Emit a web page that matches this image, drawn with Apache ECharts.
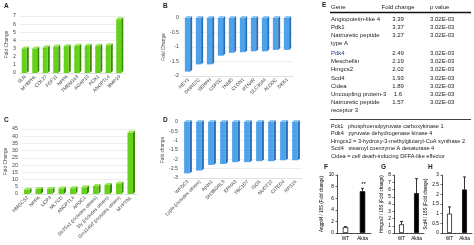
<!DOCTYPE html>
<html>
<head>
<meta charset="utf-8">
<script src="https://cdn.jsdelivr.net/npm/echarts@6/dist/echarts.min.js"></script>
<style>
html, body { margin: 0; padding: 0; background: #fff; }
#fig { width: 474px; height: 245px; }
</style>
</head>
<body>
<div id="fig"></div>
<script>
// panel A - up-regulated genes (array)
var genesA = ['SLN', 'MYBPHL', 'COL27', 'FGF11', 'NPPA', 'TMEM163', 'AGAP10', 'PCK1', 'ANGPTL4', 'BMP10'];
var foldA = [3.0, 3.0, 3.15, 3.25, 3.3, 3.35, 3.35, 3.35, 3.4, 6.6];
// panel B - down-regulated genes (array)
var genesB = ['HEY1', 'DHRS7C', 'SERPH', 'USP2C', 'TNMD', 'CLDN1', 'RTN4R', 'SLC36A4', 'ALDOC', 'DKK1'];
var foldB = [-1.85, -1.6, -1.6, -1.3, -1.2, -1.18, -1.15, -1.15, -1.1, -1.1];
// panel C - up-regulated genes (sequencing)
var genesC = ['HMGCS2', 'NPPA', 'UCP3', 'MLYCD', 'ANGPTL4', 'APOC1', 'Slc25a1 (includes others)', 'Sly (includes others)', 'Gm11492 (includes others)', 'MYPTNL'];
var foldC = [3.0, 3.5, 3.5, 3.8, 4.0, 4.6, 5.5, 6.3, 7.3, 42.5];
// panel D - down-regulated genes (sequencing)
var genesD = ['WFDC3', 'Lypla (includes others)', 'Ap3s1', 'SH3BGRL3', 'EPHA3', 'TBC1D7', 'ISG5', 'NUDT22', 'CITED4', 'RPS16'];
var foldD = [-2.75, -2.6, -2.3, -2.25, -2.15, -2.15, -2.1, -2.1, -2.05, -2.05];

// panel E - table
var tableGenes = ['Angiopoietin-like 4', 'Pdk1', 'Natriuretic peptide\ntype A', 'Pdk4', 'Meschellin', 'Hmgcs2', 'Scd4', 'Cidea', 'Uncoupling protein-3', 'Natriuretic peptide\nreceptor 3'];
var tableFold = ['3.39', '3.37', '3.27', '2.49', '2.19', '2.02', '1.93', '1.89', '1.6', '1.57'];
var tablePval = ['3.02E-03', '3.02E-03', '3.02E-03', '3.02E-03', '3.02E-03', '3.02E-03', '3.02E-03', '3.02E-03', '3.02E-03', '3.02E-03'];
var footnotes = [
    'Pck1   phosphoenolpyruvate carboxykinase 1',
    'Pdk4   pyruvate dehydrogenase kinase 4',
    'Hmgcs2 = 3-hydroxy-3-methylglutaryl-CoA synthase 2',
    'Scd4   stearoyl coenzyme A desaturase 4',
    'Cidea = cell death-inducing DFFA-like effector'
];

// panels F, G, H - qPCR
var groups = ['WT', 'Akita'];
var qpcrF = [1.0, 7.2];
var errF = [0.1, 0.5];
var qpcrG = [1.2, 5.5];
var errG = [0.4, 2.0];
var qpcrH = [1.0, 2.25];
var errH = [0.35, 0.65];

var FONT = 'Liberation Sans';
var chart = echarts.init(document.getElementById('fig'), null, { renderer: 'canvas' });

// 3D-looking bar (front + side + top), like Excel
function bar3d(front, side, top) {
    return function(params, api) {
        var i = api.value(0), v = api.value(1);
        var p1 = api.coord([i, v]);
        var p0 = api.coord([i, 0]);
        var w = api.size([1, 0])[0] * 0.48;
        var d = 2;
        var x0 = p1[0] - w / 2 - 1;
        var y0 = Math.min(p0[1], p1[1]);
        var y1 = Math.max(p0[1], p1[1]);
        return {
            type: 'group',
            children: [
                { type: 'polygon', shape: { points: [[x0 + w, y0], [x0 + w + d, y0 - d], [x0 + w + d, y1 - d], [x0 + w, y1]] }, style: { fill: side } },
                { type: 'polygon', shape: { points: [[x0, y0], [x0 + d, y0 - d], [x0 + w + d, y0 - d], [x0 + w, y0]] }, style: { fill: top } },
                { type: 'rect', shape: { x: x0, y: y0, width: w, height: y1 - y0 }, style: { fill: front } }
            ]
        };
    };
}

// error bars for qPCR panels
function errBar(errs, stars) {
    return function(params, api) {
        var i = api.value(0), v = api.value(1);
        var e = errs[i];
        var pTop = api.coord([i, v + e]);
        var pMid = api.coord([i, v]);
        var kids = [
            { type: 'line', shape: { x1: pMid[0], y1: pMid[1], x2: pTop[0], y2: pTop[1] }, style: { stroke: '#000', lineWidth: 0.8 } },
            { type: 'line', shape: { x1: pTop[0] - 1.5, y1: pTop[1], x2: pTop[0] + 1.5, y2: pTop[1] }, style: { stroke: '#000', lineWidth: 0.8 } }
        ];
        if (stars && stars[i]) {
            kids.push({ type: 'text', x: pTop[0] + 1, y: pTop[1] - 1, style: { text: stars[i], fill: '#000', font: '6px ' + FONT, textAlign: 'center', textVerticalAlign: 'bottom' } });
        }
        return { type: 'group', children: kids };
    };
}

function pairData(vals) {
    return vals.map(function(v, i) { return [i, v]; });
}

var grids = [
    { left: 20, top: 16, width: 105, height: 57 },   // A
    { left: 183, top: 18, width: 110, height: 58 },  // B
    { left: 22, top: 129, width: 115, height: 65 },  // C
    { left: 182, top: 122, width: 120, height: 56 }, // D
    { left: 337, top: 175, width: 34, height: 58 },  // F
    { left: 394, top: 175, width: 30, height: 58 },  // G
    { left: 442, top: 175, width: 30, height: 58 }   // H
];

function geneXAxis(idx, names) {
    return {
        gridIndex: idx, type: 'category', data: names, position: 'bottom',
        axisLine: { onZero: false, lineStyle: { color: '#d9d9d9', width: 0.6 } },
        axisTick: { show: false },
        axisLabel: { interval: 0, rotate: 45, fontSize: 4.8, color: '#444', fontFamily: FONT, margin: 3 }
    };
}

function geneYAxis(idx, min, max, step, name) {
    return {
        gridIndex: idx, type: 'value', min: min, max: max, interval: step,
        name: name, nameLocation: 'middle', nameGap: 11,
        nameTextStyle: { fontSize: 4.8, color: '#444', fontFamily: FONT },
        axisLine: { show: false }, axisTick: { show: false },
        axisLabel: { fontSize: 5.3, color: '#444', fontFamily: FONT, margin: 4 },
        splitLine: { lineStyle: { color: '#e3e3e3', width: 0.6 } }
    };
}

function qXAxis(idx) {
    return {
        gridIndex: idx, type: 'category', data: groups,
        axisLine: { lineStyle: { color: '#000', width: 0.7 } },
        axisTick: { show: false },
        axisLabel: { interval: 0, fontSize: 4.8, color: '#000', fontFamily: FONT, margin: 3 }
    };
}

function qYAxis(idx, max, step, name) {
    return {
        gridIndex: idx, type: 'value', min: 0, max: max, interval: step,
        name: name, nameLocation: 'middle', nameGap: 10,
        nameTextStyle: { fontSize: 4.5, color: '#000', fontFamily: FONT },
        axisLine: { show: true, lineStyle: { color: '#000', width: 0.7 } },
        axisTick: { show: true, inside: false, length: 1.5, lineStyle: { color: '#000', width: 0.6 } },
        axisLabel: { fontSize: 4.8, color: '#000', fontFamily: FONT, margin: 3 },
        splitLine: { show: false }
    };
}

function qBars(idx, vals) {
    return {
        type: 'bar', xAxisIndex: idx, yAxisIndex: idx, barWidth: '32%',
        data: vals.map(function(v, i) {
            return { value: v, itemStyle: { color: i === 0 ? '#fff' : '#000', borderColor: '#000', borderWidth: 0.7 } };
        })
    };
}

function qErr(idx, vals, errs, stars) {
    return {
        type: 'custom', xAxisIndex: idx, yAxisIndex: idx, renderItem: errBar(errs, stars),
        data: pairData(vals), encode: { x: 0, y: 1 }, z: 5
    };
}

// table graphics
var tableEls = [];
var colGene = 331, colFold = 398, colP = 430;
var LH = 8.2;
var txt = function(x, y, s, extra) {
    var st = { text: s, fill: '#222', font: '6px ' + FONT, textVerticalAlign: 'middle', lineHeight: LH };
    if (extra) { for (var k in extra) st[k] = extra[k]; }
    return { type: 'text', x: x, y: y, style: st };
};
tableEls.push(txt(colGene, 7, 'Gene'));
tableEls.push(txt(colFold, 7, 'Fold change', { textAlign: 'center' }));
tableEls.push(txt(colP, 7, 'p value'));
tableEls.push({ type: 'line', shape: { x1: 330, y1: 12.5, x2: 471, y2: 12.5 }, style: { stroke: '#111', lineWidth: 1.3 } });
var yy = 19;
for (var r = 0; r < tableGenes.length; r++) {
    var nl = tableGenes[r].split('\n').length;
    var yc = yy + (nl - 1) * LH / 2;
    tableEls.push(txt(colGene, yc, tableGenes[r], { fill: r === 3 ? '#1f3c8f' : '#222' }));
    tableEls.push(txt(colFold, yy, tableFold[r], { textAlign: 'center' }));
    tableEls.push(txt(colP, yy, tablePval[r]));
    yy += nl * LH + (r === 2 ? 1.5 : 0);
}
tableEls.push({ type: 'line', shape: { x1: 330, y1: 119.5, x2: 471, y2: 119.5 }, style: { stroke: '#111', lineWidth: 0.8 } });
for (var f = 0; f < footnotes.length; f++) {
    tableEls.push(txt(331, 126 + f * 7.6, footnotes[f], { font: '5.6px ' + FONT }));
}

var letters = [['A', 4, 3], ['B', 163, 3], ['C', 4, 117], ['D', 163, 117], ['E', 322, 2], ['F', 324, 164], ['G', 381, 164], ['H', 428, 164]];
var letterEls = letters.map(function(l) {
    return { type: 'text', x: l[1], y: l[2], style: { text: l[0], fill: '#222', font: 'bold 6.5px ' + FONT } };
});

var greenBar = bar3d('#66d11a', '#3a8a06', '#9be85a');
var blueBar = bar3d('#4da2ea', '#2a6cb8', '#8cc6f5');

chart.setOption({
    animation: false,
    textStyle: { fontFamily: FONT },
    grid: grids,
    xAxis: [
        geneXAxis(0, genesA), geneXAxis(1, genesB), geneXAxis(2, genesC), geneXAxis(3, genesD),
        qXAxis(4), qXAxis(5), qXAxis(6)
    ],
    yAxis: [
        geneYAxis(0, 0, 7, 1, 'Fold Change'),
        geneYAxis(1, -2, 0, 0.5, 'Fold Change'),
        geneYAxis(2, 0, 45, 5, 'Fold Change'),
        geneYAxis(3, -3, 0, 0.5, 'Fold change'),
        qYAxis(4, 10, 2, 'Angptl4 / 18S (Fold change)'),
        qYAxis(5, 8, 1, 'Hmgcs2 / 18S (Fold change)'),
        qYAxis(6, 3, 0.5, 'Scd4 / 18S (Fold change)')
    ],
    series: [
        { type: 'custom', xAxisIndex: 0, yAxisIndex: 0, renderItem: greenBar, data: pairData(foldA), encode: { x: 0, y: 1 } },
        { type: 'custom', xAxisIndex: 1, yAxisIndex: 1, renderItem: blueBar, data: pairData(foldB), encode: { x: 0, y: 1 } },
        { type: 'custom', xAxisIndex: 2, yAxisIndex: 2, renderItem: greenBar, data: pairData(foldC), encode: { x: 0, y: 1 } },
        { type: 'custom', xAxisIndex: 3, yAxisIndex: 3, renderItem: blueBar, data: pairData(foldD), encode: { x: 0, y: 1 } },
        qBars(4, qpcrF), qErr(4, qpcrF, errF, ['', '**']),
        qBars(5, qpcrG), qErr(5, qpcrG, errG),
        qBars(6, qpcrH), qErr(6, qpcrH, errH)
    ],
    graphic: tableEls.concat(letterEls)
});

window.onresize = function() {
    chart.resize();
};
</script>
</body>
</html>
